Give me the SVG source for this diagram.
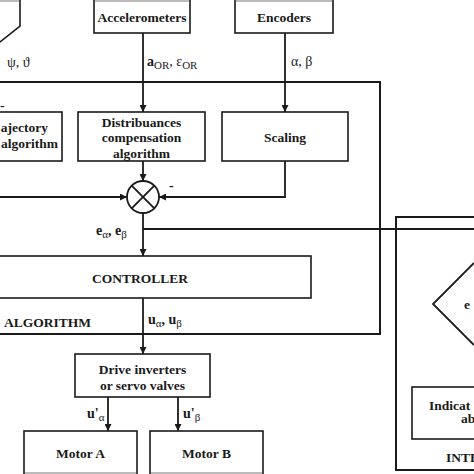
<svg xmlns="http://www.w3.org/2000/svg" width="474" height="474" viewBox="0 0 474 474">
<defs>
<marker id="ah" viewBox="0 0 10 10" refX="10" refY="5" markerWidth="7" markerHeight="7" markerUnits="userSpaceOnUse" orient="auto">
<path d="M0,0 L10,5 L0,10 Z" fill="#1a1a1a"/>
</marker>
<style>
.b{fill:#fff;stroke:#1a1a1a;stroke-width:1.6}
.f{fill:none;stroke:#1a1a1a;stroke-width:2}
.c{fill:none;stroke:#1a1a1a;stroke-width:1.8}
.a{marker-end:url(#ah)}
.t{font-family:"Liberation Serif","Times New Roman",serif;font-weight:bold;font-size:13.5px;fill:#1a1a1a;text-anchor:middle}
.l{font-family:"Liberation Serif","Times New Roman",serif;font-size:14px;fill:#1a1a1a}
.lb{font-weight:bold}
.s{font-size:11px;font-weight:normal}
.g{stroke:#bbb;stroke-width:2}
</style>
</defs>
<rect width="474" height="474" fill="#fff"/>

<g id="frames">
<polyline class="f" points="-2,82 380,82 380,334 -2,334"/>
<polyline class="f" points="476,217 396,217 396,470 476,470"/>
</g>

<g id="gyro">
<polygon class="b" points="-10,-5 20,-5 20,26 0,42 -10,42"/>
<line class="g" x1="0" y1="1" x2="19" y2="1"/>
</g>

<g id="accelerometers">
<rect class="b" x="94" y="-5" width="96" height="38"/>
<line class="g" x1="95" y1="1" x2="189" y2="1"/>
<text class="t" x="142" y="22">Accelerometers</text>
</g>

<g id="encoders">
<rect class="b" x="235" y="-5" width="98" height="38"/>
<line class="g" x1="236" y1="1" x2="332" y2="1"/>
<text class="t" x="284" y="22">Encoders</text>
</g>

<g id="trajectory">
<rect class="b" x="-10" y="112" width="72" height="49"/>
<text class="t" x="48" y="132" style="text-anchor:end">ajectory</text>
<text class="t" x="58" y="148" style="text-anchor:end">algorithm</text>
</g>

<g id="compensation">
<rect class="b" x="78" y="112" width="127" height="49"/>
<text class="t" x="141.5" y="126.5">Distribuances</text>
<text class="t" x="141.5" y="142">compensation</text>
<text class="t" x="141.5" y="157.5">algorithm</text>
</g>

<g id="scaling">
<rect class="b" x="222" y="112" width="126" height="49"/>
<text class="t" x="285" y="141.5">Scaling</text>
</g>

<g id="sum">
<circle class="c" cx="143" cy="197" r="16" fill="#fff"/>
<line class="c" x1="131.7" y1="185.7" x2="154.3" y2="208.3"/>
<line class="c" x1="154.3" y1="185.7" x2="131.7" y2="208.3"/>
</g>

<g id="controller">
<rect class="b" x="-10" y="256" width="321" height="42"/>
<text class="t" x="140" y="283">CONTROLLER</text>
</g>

<g id="drive">
<rect class="b" x="75" y="354" width="135" height="43"/>
<text class="t" x="142.5" y="374">Drive inverters</text>
<text class="t" x="142.5" y="390">or servo valves</text>
</g>

<g id="motorA">
<rect class="b" x="24" y="431" width="113" height="50"/>
<line class="g" x1="25" y1="473" x2="136" y2="473"/>
<text class="t" x="80.5" y="458">Motor A</text>
</g>

<g id="motorB">
<rect class="b" x="150" y="431" width="113" height="50"/>
<line class="g" x1="151" y1="473" x2="262" y2="473"/>
<text class="t" x="206.5" y="458">Motor B</text>
</g>

<g id="decision">
<polyline class="c" points="474,263 433,304 474,345"/>
<text class="t" x="467" y="309">e</text>
</g>

<g id="indicator">
<rect class="b" x="412" y="387" width="70" height="52"/>
<text class="t" x="429" y="410" style="text-anchor:start">Indicat</text>
<text class="t" x="461" y="423" style="text-anchor:start">ab</text>
</g>

<g id="connectors">
<line class="c a" x1="143" y1="33" x2="143" y2="112"/>
<line class="c a" x1="285" y1="33" x2="285" y2="112"/>
<line class="c a" x1="143" y1="161" x2="143" y2="181"/>
<line class="c a" x1="-2" y1="197" x2="127" y2="197"/>
<polyline class="c a" points="285,161 285,197 159,197"/>
<line class="c a" x1="143" y1="213" x2="143" y2="256"/>
<line class="c" x1="143" y1="229" x2="476" y2="229"/>
<line class="c a" x1="143" y1="298" x2="143" y2="354"/>
<line class="c a" x1="108" y1="397" x2="108" y2="431"/>
<line class="c a" x1="178" y1="397" x2="178" y2="431"/>
</g>

<g id="labels">
<text class="l" x="7" y="67">ψ, ϑ</text>
<text class="l" x="147" y="66"><tspan class="lb">a</tspan><tspan class="s" dy="3">OR</tspan><tspan dy="-3">, ε</tspan><tspan class="s" dy="3">OR</tspan></text>
<text class="l" x="291" y="66">α, β</text>
<text class="l" x="0" y="110">-</text>
<text class="l lb" x="169" y="190">-</text>
<text class="l" x="96" y="235"><tspan class="lb">e</tspan><tspan class="s" dy="3">α</tspan><tspan class="lb" dy="-3">, e</tspan><tspan class="s" dy="3">β</tspan></text>
<text class="t" x="4" y="327" style="text-anchor:start">ALGORITHM</text>
<text class="l" x="148" y="324"><tspan class="lb">u</tspan><tspan class="s" dy="3">α</tspan><tspan class="lb" dy="-3">, u</tspan><tspan class="s" dy="3">β</tspan></text>
<text class="l" x="87" y="418"><tspan class="lb">u'</tspan><tspan class="s" dy="3">α</tspan></text>
<text class="l" x="183" y="418"><tspan class="lb">u'</tspan><tspan class="s" dy="3">β</tspan></text>
<text class="t" x="446" y="462" style="text-anchor:start">INTE</text>
</g>
</svg>
